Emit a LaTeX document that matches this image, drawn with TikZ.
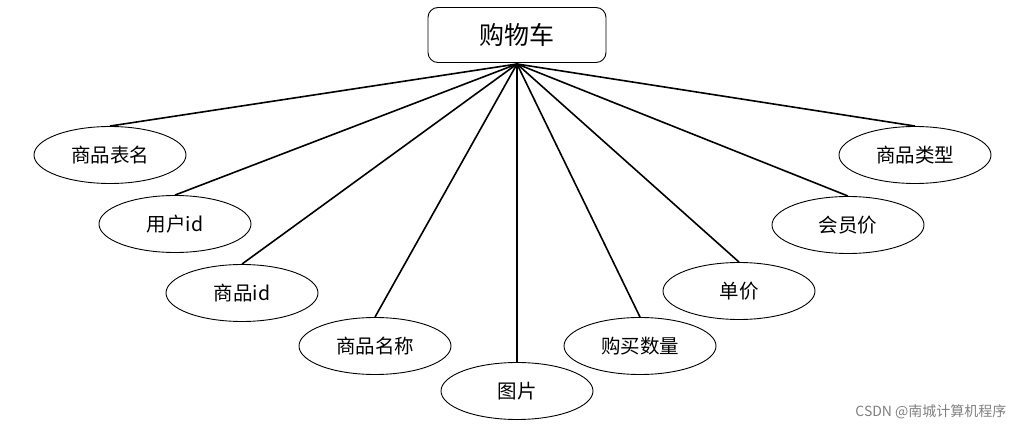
\documentclass[tikz,border=0pt]{standalone}
\usepackage{fontspec}
\setmainfont{Noto Sans CJK SC}
\usetikzlibrary{shapes.geometric}
\begin{document}
\begin{tikzpicture}[x=1pt,y=-1pt,
  attr/.style={draw,line width=0.9pt,ellipse,minimum width=152pt,minimum height=57pt,inner sep=0pt,font=\fontsize{19.5}{22}\selectfont},
  rootbox/.style={draw,line width=0.9pt,rounded corners=10pt,minimum width=178pt,minimum height=55pt,font=\fontsize{25}{28}\selectfont},
  link/.style={line width=1.6pt}]
\useasboundingbox (0,0) rectangle (1023,433);
\node[rootbox] (root) at (517,35) {购物车};
\coordinate (hub) at (517,64);
\node[attr] (a1) at (110,155) {商品表名};
\node[attr] (a2) at (175,224) {用户id};
\node[attr] (a3) at (242,293) {商品id};
\node[attr] (a4) at (375,346) {商品名称};
\node[attr] (a5) at (517,391) {图片};
\node[attr] (a6) at (640,346) {购买数量};
\node[attr] (a7) at (739,291) {单价};
\node[attr] (a8) at (848,225) {会员价};
\node[attr] (a9) at (915,155) {商品类型};
\foreach \n in {a1,a2,a3,a4,a5,a6,a7,a8,a9}
  \draw[link] (hub) -- (\n.north);
\node[text=gray,font=\fontsize{14}{16}\selectfont,anchor=east] (wm) at (1010,412) {CSDN @南城计算机程序};
\end{tikzpicture}
\end{document}
